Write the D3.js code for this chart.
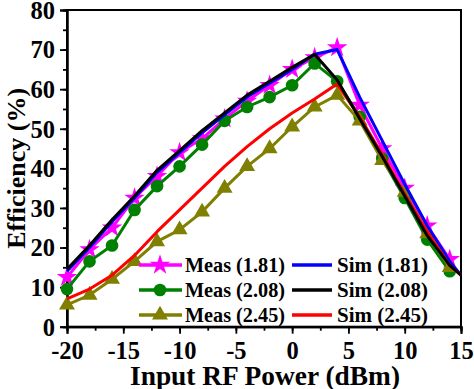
<!DOCTYPE html>
<html><head><meta charset="utf-8">
<script src="https://cdn.jsdelivr.net/npm/d3@7"></script>
<style>body{margin:0;background:#fff}svg{display:block}</style>
</head><body>
<svg id="c" width="474" height="389"></svg>
<script>
const xMeas = [-20,-18,-16,-14,-12,-10,-8,-6,-4,-2,0,2,4,6,8,10,12,14];
const meas181 = [12.5,19.5,25,32.5,38,44,47.5,52.5,57,61,65,68,70.5,56,45,35,25.5,17];
const meas208 = [9.5,16.5,20.5,29.5,35.5,40.5,46,52,55.5,58,61,66.5,62,53,42.5,32.5,22,14];
const meas245 = [5.5,8,12,16.5,21.5,24.5,29,35,40.5,45,50.5,55.5,58.5,52,42,34,23.5,15];
const xSim = [-20,-18,-16,-14,-12,-10,-8,-6,-4,-2,0,2,4,6,8,10,12,14,15];
const sim181 = [14,20,26.5,32.5,39,44,49,53.5,58,61.5,65,68.8,70,58,47,36,25.5,16.5,13];
const sim208 = [14.5,20.5,27,33,39.5,44.5,49.5,54,58.5,62,65.5,68.8,62.3,52.5,43,33,23,15.5,13];
const sim245 = [7,9.5,13,18,24,29.5,35,40.5,45.5,50,54,57.5,61.3,53,43.5,33.5,24,15.5,13];
const measLabels = ["Meas (1.81)","Meas (2.08)","Meas (2.45)"];
const simLabels = ["Sim (1.81)","Sim (2.08)","Sim (2.45)"];
const xTicks = [-20,-15,-10,-5,0,5,10,15];
const yTicks = [0,10,20,30,40,50,60,70,80];

const svg = d3.select("#c");
const L=67,R=461,T=10,B=326.7;
const x = d3.scaleLinear().domain([-20,15]).range([L,R]);
const y = d3.scaleLinear().domain([0,80]).range([B,T]);
const font = "'Liberation Serif','Times New Roman',serif";

svg.append("rect").attr("x",L).attr("y",T).attr("width",R-L).attr("height",B-T)
  .attr("fill","none").attr("stroke","#000").attr("stroke-width",2);

const xMinor = d3.range(-20,15.01,2.5);
const yMinor = d3.range(0,80.01,5);
const gx = svg.append("g").attr("transform",`translate(0,${B})`)
  .call(d3.axisBottom(x).tickValues(xMinor).tickSize(4).tickFormat(""));
const gx2 = svg.append("g").attr("transform",`translate(0,${B})`)
  .call(d3.axisBottom(x).tickValues(xTicks).tickSize(7).tickPadding(7.5).tickFormat(d3.format("d")));
const gy = svg.append("g").attr("transform",`translate(${L},0)`)
  .call(d3.axisLeft(y).tickValues(yMinor).tickSize(4).tickFormat(""));
const gy2 = svg.append("g").attr("transform",`translate(${L},0)`)
  .call(d3.axisLeft(y).tickValues(yTicks).tickSize(7).tickPadding(5).tickFormat(d3.format("d")));
[gx,gx2,gy,gy2].forEach(g=>{
  g.select(".domain").attr("stroke-width",2);
  g.selectAll(".tick line").attr("stroke-width",1.8);
  g.selectAll("text").attr("font-family",font).attr("font-weight","bold").attr("font-size",24.5).attr("fill","#000");
});
gx2.selectAll("text").text(d=>d<0?"-"+Math.abs(d):d);
gy2.selectAll("text").attr("dy","0.34em");

svg.append("text").attr("x",(L+R)/2+1).attr("y",384.5).attr("text-anchor","middle")
  .attr("font-family",font).attr("font-weight","bold").attr("font-size",26.5)
  .attr("textLength",270).attr("lengthAdjust","spacingAndGlyphs").text("Input RF Power (dBm)");
svg.append("text").attr("transform",`translate(25,${(T+B)/2}) rotate(-90)`).attr("text-anchor","middle")
  .attr("font-family",font).attr("font-weight","bold").attr("font-size",26).text("Efficiency (%)");

const line = d3.line().x(d=>x(d[0])).y(d=>y(d[1]));
const star = d3.symbol().type(d3.symbolStar).size(130);
const circ = d3.symbol().type(d3.symbolCircle).size(125);
const tri = d3.symbol().type(d3.symbolTriangle).size(110);

const meas = [
  {v:meas181,c:"#ff00ff",s:star},
  {v:meas208,c:"#008000",s:circ},
  {v:meas245,c:"#808000",s:tri}
];
const sims = [
  {v:sim181,c:"#0000ff"},
  {v:sim245,c:"#ff0000"},
  {v:sim208,c:"#000000"}
];
meas.forEach(m=>{
  const pts = xMeas.map((xv,i)=>[xv,m.v[i]]);
  svg.append("path").attr("d",line(pts)).attr("fill","none").attr("stroke",m.c).attr("stroke-width",3);
  svg.selectAll(null).data(pts).enter().append("path").attr("d",m.s)
    .attr("transform",d=>`translate(${x(d[0])},${y(d[1])})`).attr("fill",m.c);
});
sims.forEach(s=>{
  const pts = xSim.map((xv,i)=>[xv,s.v[i]]);
  svg.append("path").attr("d",line(pts)).attr("fill","none").attr("stroke",s.c).attr("stroke-width",3)
    .attr("stroke-linejoin","round");
});

const legY=[265,290,315];
const simCols=["#0000ff","#000000","#ff0000"];
meas.forEach((m,i)=>{
  svg.append("line").attr("x1",139).attr("x2",182).attr("y1",legY[i]).attr("y2",legY[i]).attr("stroke",m.c).attr("stroke-width",3.5);
  svg.append("path").attr("d",m.s).attr("transform",`translate(160,${legY[i]})`).attr("fill",m.c);
  svg.append("text").attr("x",185).attr("y",legY[i]+7).attr("font-family",font).attr("font-weight","bold")
    .attr("font-size",21).attr("textLength",100).attr("lengthAdjust","spacingAndGlyphs").text(measLabels[i]);
  svg.append("line").attr("x1",292).attr("x2",332).attr("y1",legY[i]).attr("y2",legY[i]).attr("stroke",simCols[i]).attr("stroke-width",3.5);
  svg.append("text").attr("x",337).attr("y",legY[i]+7).attr("font-family",font).attr("font-weight","bold")
    .attr("font-size",21).attr("textLength",91).attr("lengthAdjust","spacingAndGlyphs").text(simLabels[i]);
});
</script>
</body></html>
